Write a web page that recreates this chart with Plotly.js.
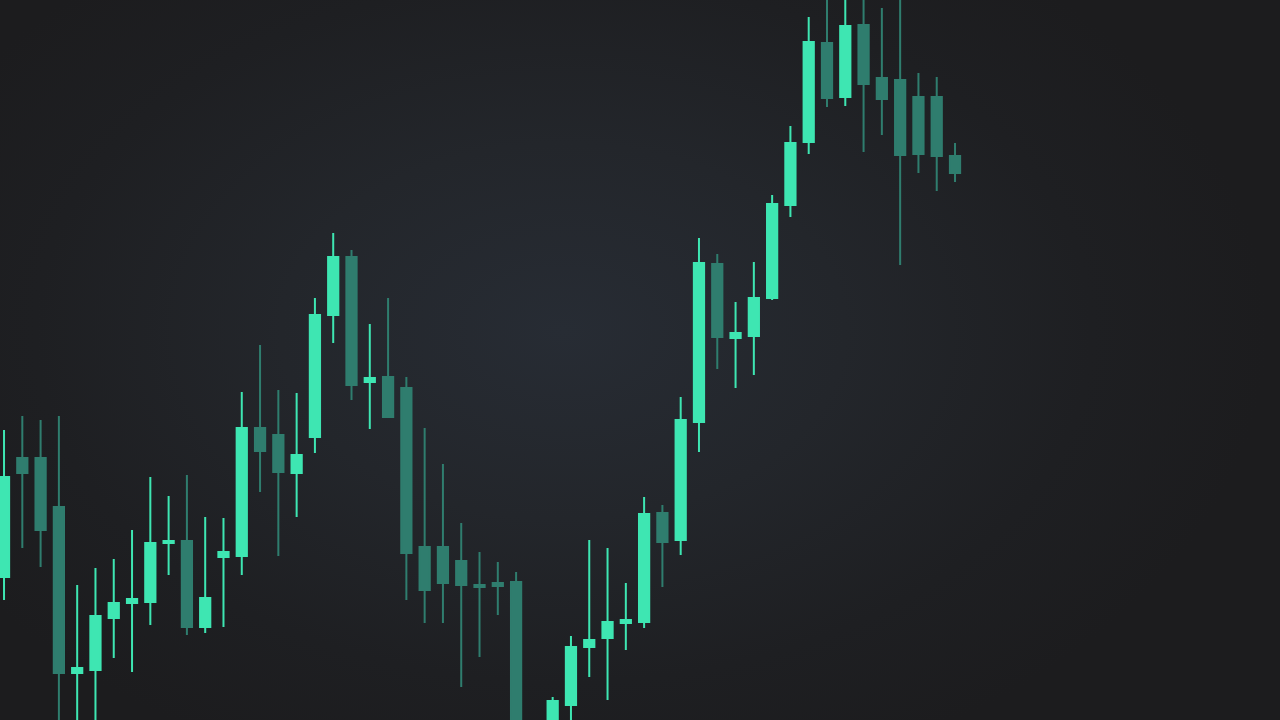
<!DOCTYPE html>
<html>
<head>
<meta charset="utf-8">
<script src="https://cdn.plot.ly/plotly-3.0.1.min.js"></script>
<style>
  html, body { margin: 0; padding: 0; width: 1280px; height: 720px; overflow: hidden; }
  body { background: radial-gradient(ellipse 55% 65% at 44% 46%, #272c34 0%, #23262b 40%, #1e1f22 75%, #1c1c1e 100%); }
  #chart { width: 1280px; height: 720px; }
</style>
</head>
<body>
<div id="chart"></div>
<script>
// Candle index (session number)
const sessions = [0,1,2,3,4,5,6,7,8,9,10,11,12,13,14,15,16,17,18,19,20,21,22,23,24,25,26,27,28,29,30,31,32,33,34,35,36,37,38,39,40,41,42,43,44,45,46,47,48,49,50,51,52];
const openPrices = [143,262,262,213,47,50,102,117,118,177,179,93,163,164,292,285,247,283,405,463,338,343,332,173,173,159,135,137,138,-60,-20,15,73,82,97,98,207,180,298,456,382,384,422,515,578,677,623,695,642,640,623,623,564];
const highPrices = [290,304,300,304,135,152,161,190,243,224,245,203,202,328,375,330,327,422,487,470,396,422,343,292,256,197,168,158,148,-20,23,84,180,172,137,223,215,323,482,466,418,458,525,594,703,730,730,730,712,730,647,643,577];
const lowPrices  = [120,172,153,-10,-10,-10,62,48,95,145,85,87,93,145,228,164,203,267,377,320,291,303,120,97,97,33,63,105,-40,-70,-40,-10,43,20,70,92,133,165,268,351,332,345,420,503,566,613,614,568,585,455,547,529,538];
const closePrices= [243,247,190,47,52,104,117,121,177,179,93,122,168,292,269,248,265,405,463,335,342,303,167,130,137,135,133,134,-20,-30,19,73,80,98,100,206,178,300,457,383,387,422,516,577,678,622,694,636,621,565,566,564,547];

const upColor = '#3ee6b2';
const downColor = '#2f7d6e';

const trace = {
  type: 'candlestick',
  x: sessions,
  open: openPrices,
  high: highPrices,
  low: lowPrices,
  close: closePrices,
  increasing: { line: { color: upColor, width: 2 }, fillcolor: upColor },
  decreasing: { line: { color: downColor, width: 2 }, fillcolor: downColor },
  whiskerwidth: 0,
  showlegend: false,
  hoverinfo: 'skip'
};

const layout = {
  width: 1280,
  height: 720,
  margin: { l: 0, r: 0, t: 0, b: 0, pad: 0 },
  paper_bgcolor: 'rgba(0,0,0,0)',
  plot_bgcolor: 'rgba(0,0,0,0)',
  boxgap: 0.2,
  showlegend: false,
  xaxis: {
    range: [-0.22, 69.77],
    visible: false,
    showgrid: false,
    zeroline: false,
    rangeslider: { visible: false },
    fixedrange: true
  },
  yaxis: {
    range: [0, 720],
    visible: false,
    showgrid: false,
    zeroline: false,
    fixedrange: true
  }
};

Plotly.newPlot('chart', [trace], layout, { displayModeBar: false, staticPlot: true });
</script>
</body>
</html>
